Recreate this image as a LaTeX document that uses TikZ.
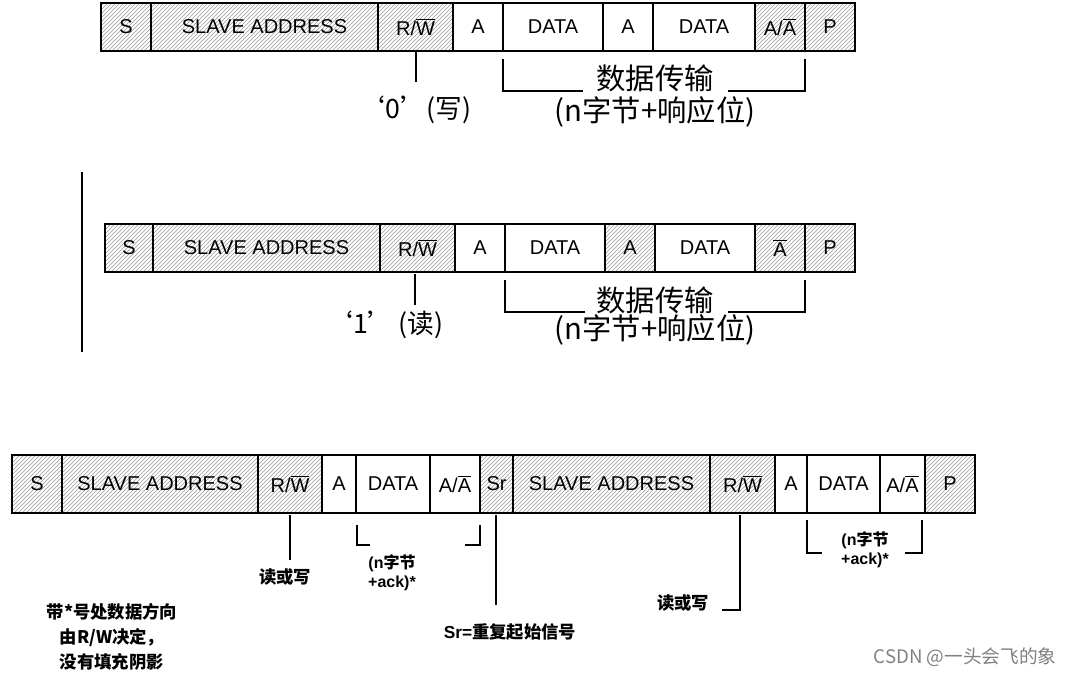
\documentclass[tikz,border=0pt]{standalone}
\usepackage{fontspec}
\setmainfont{Liberation Sans}
\newfontfamily\cjk{Noto Sans CJK SC}
\usetikzlibrary{patterns}
\newcommand\ovl[1]{$\overline{\mbox{#1}}$}
\tikzset{
    cell/.style={draw, thick, inner sep=0pt, outer sep=0pt, font=\fontsize{15}{16}\selectfont},
    hat/.style={cell, pattern=north east lines, pattern color=gray!80},
    wht/.style={cell, fill=white},
    tick/.style={thick},
    big/.style={font=\fontsize{22}{24}\selectfont\cjk},
    small/.style={font=\fontsize{12}{14}\selectfont\bfseries, align=center},
}
\begin{document}
\begin{tikzpicture}[x=0.75pt, y=-0.75pt]
    \useasboundingbox (0,0) rectangle (1076,675);
    % write frame
    \foreach \l/\r/\t/\s [count=\i] in {101/151/S/hat, 151/378/SLAVE ADDRESS/hat, 378/453/{R/\ovl{W}}/hat,
        453/503/A/wht, 503/603/DATA/wht, 603/653/A/wht, 653/755/DATA/wht, 755/805/{A/\ovl{A}}/hat, 805/855/P/hat}
        \node[\s, minimum width={(\r-\l)*0.75pt}, minimum height=36pt] (w\i) at ({(\l+\r)/2},27) {\t};
    \coordinate (wrw) at (416,82);
    \draw[tick] (416,52) -- (wrw);
    \node (wdt) at (655,78) [big] {数据传输};
    \node (wdn) at (655,112) [big] {(n字节+响应位)};
    \node (w0) at (415,110) [font=\fontsize{20}{22}\selectfont\cjk] {‘0’(写)};
    \draw[tick] (w5.south west) ++(0,-6pt) -- ++(0,-24pt) -- ++(60pt,0);
    \draw[tick] (w8.south east) ++(0,-6pt) -- ++(0,-24pt) -- ++(-58pt,0);
    % read frame
    \draw[thick] (82,172) -- (82,352);
    \foreach \l/\r/\t/\s [count=\i] in {105/153/S/hat, 153/380/SLAVE ADDRESS/hat, 380/455/{R/\ovl{W}}/hat,
        455/505/A/wht, 505/605/DATA/wht, 605/655/A/hat, 655/755/DATA/wht, 755/805/\ovl{A}/hat, 805/855/P/hat}
        \node[\s, minimum width={(\r-\l)*0.75pt}, minimum height=36pt] (r\i) at ({(\l+\r)/2},248) {\t};
    \draw[tick] (415,274) -- (415,305);
    \node (rdt) at (655,300) [big] {数据传输};
    \node (rdn) at (655,330) [big] {(n字节+响应位)};
    \node (rone) at (385,325) [font=\fontsize{20}{22}\selectfont\cjk] {‘1’\,(读)};
    \draw[tick] (r5.south west) ++(0,-6pt) -- ++(0,-24pt) -- ++(60pt,0);
    \draw[tick] (r8.south east) ++(0,-6pt) -- ++(0,-24pt) -- ++(-58pt,0);
    % combined frame
    \foreach \l/\r/\t/\s [count=\i] in {12/62/S/hat, 62/258/SLAVE ADDRESS/hat, 258/322/{R/\ovl{W}}/hat,
        322/356/A/wht, 356/430/DATA/wht, 430/480/{A/\ovl{A}}/wht, 480/513/Sr/hat, 513/710/SLAVE ADDRESS/hat,
        710/775/{R/\ovl{W}}/hat, 775/807/A/wht, 807/880/DATA/wht, 880/925/{A/\ovl{A}}/wht, 925/975/P/hat}
        \node[\s, minimum width={(\r-\l)*0.75pt}, minimum height=43.5pt] (c\i) at ({(\l+\r)/2},484) {\t};
    \node (crw1) at (285,577) [font=\fontsize{13}{15}\selectfont\cjk\bfseries] {读或写};
    \draw[tick] (290,515) -- (290,560);
    \draw[tick] (357,525) -- (357,545) -- (370,545);
    \draw[tick] (480,525) -- (480,545) -- (465,545);
    \node (cn1) at (392,573) [small] {(n{\cjk 字节}\\+ack)*};
    \draw[tick] (496,515) -- (496,605);
    \node (csr) at (510,632) [font=\fontsize{13}{15}\selectfont\bfseries] {Sr={\cjk 重复起始信号}};
    \coordinate (crc) at (722,610);
    \draw[tick] (740,515) -- (740,610) -- (crc);
    \node (crw2) at (683,603) [font=\fontsize{13}{15}\selectfont\cjk\bfseries] {读或写};
    \draw[tick] (807,520) -- (807,553) -- (822,553);
    \draw[tick] (922,520) -- (922,553) -- (905,553);
    \node (cn2) at (865,550) [small] {(n{\cjk 字节}\\+ack)*};
    \node (note) at (112,637) [font=\fontsize{13}{19}\selectfont\cjk\bfseries, align=center]
        {带*号处数据方向\\由R/W决定，\\没有填充阴影};
    \node (mark) at (965,657) [font=\fontsize{14}{16}\selectfont\cjk, text=gray] {CSDN @一头会飞的象};
\end{tikzpicture}
\end{document}
